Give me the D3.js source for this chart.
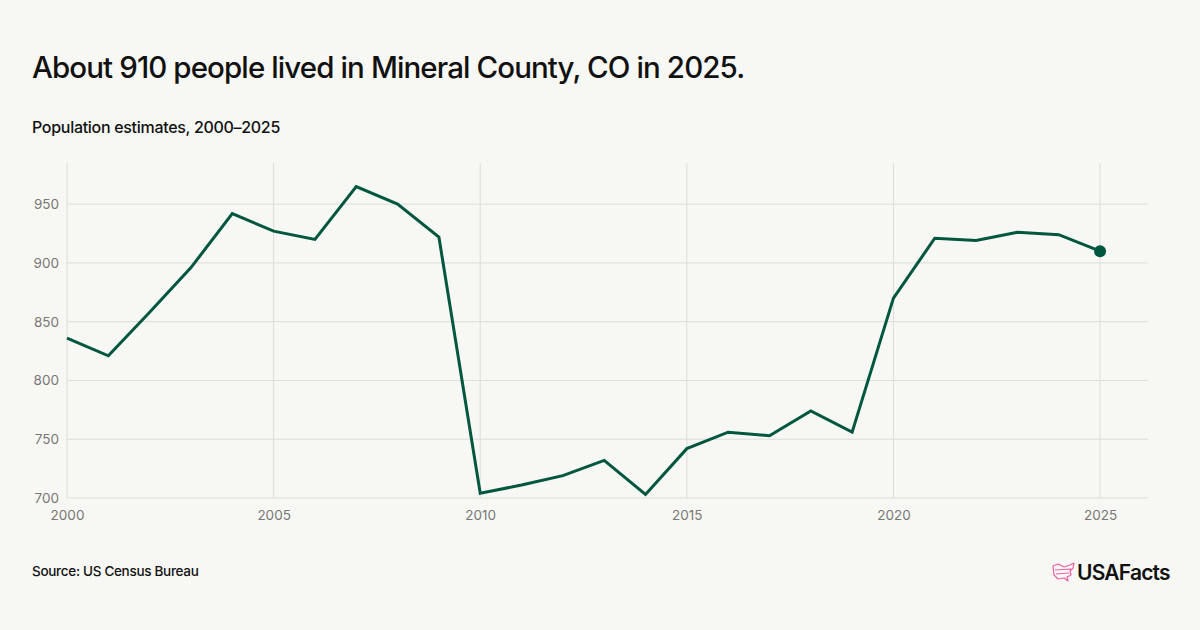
<!DOCTYPE html>
<html>
<head>
<meta charset="utf-8">
<script src="https://cdn.jsdelivr.net/npm/d3@7"></script>
<style>
  body { margin: 0; background: #f7f7f3; }
  text { font-family: Inter, "Noto Sans", sans-serif; }
</style>
</head>
<body>
<div id="chart"></div>
<script>
var years = d3.range(2000, 2026);
var population = [836, 821, 858, 896, 942, 927, 920, 965, 950, 922,
                  704, 711, 719, 732, 703, 742, 756, 753, 774, 756,
                  870, 921, 919, 926, 924, 910];
var yTicks = [700, 750, 800, 850, 900, 950];
var xTicks = [2000, 2005, 2010, 2015, 2020, 2025];

var data = years.map(function(d, i) { return {year: d, value: population[i]}; });

var W = 1200, H = 630;
var margin = {top: 163, right: 52, bottom: 132, left: 67},
    width = W - margin.left - margin.right,
    height = H - margin.top - margin.bottom;

var svg = d3.select("#chart")
    .append("svg")
    .attr("width", W)
    .attr("height", H);

svg.append("rect").attr("width", W).attr("height", H).attr("fill", "#f7f7f3");

svg.append("text")
    .attr("x", 32).attr("y", 78)
    .attr("font-size", 29.5)
    .attr("font-weight", 500)
    .attr("letter-spacing", -0.9)
    .attr("fill", "#111")
    .text("About 910 people lived in Mineral County, CO in 2025.");

svg.append("text")
    .attr("x", 32).attr("y", 133)
    .attr("font-size", 16)
    .attr("font-weight", 500)
    .attr("letter-spacing", -0.3)
    .attr("fill", "#111")
    .text("Population estimates, 2000\u20132025");

var g = svg.append("g")
    .attr("transform", "translate(" + margin.left + "," + margin.top + ")");

var x = d3.scaleLinear()
    .domain([2000, 2026.16])
    .range([0, width]);

var y = d3.scaleLinear()
    .domain([700, 985])
    .range([height, 0]);

// grid
g.append("g")
    .selectAll("line")
    .data(yTicks)
    .enter().append("line")
    .attr("x1", 0).attr("x2", width)
    .attr("y1", function(d) { return y(d); })
    .attr("y2", function(d) { return y(d); })
    .attr("stroke", "#dcdcd8").attr("stroke-width", 1);

g.append("g")
    .selectAll("line")
    .data(xTicks)
    .enter().append("line")
    .attr("y1", 0).attr("y2", height)
    .attr("x1", function(d) { return x(d); })
    .attr("x2", function(d) { return x(d); })
    .attr("stroke", "#dcdcd8").attr("stroke-width", 1);

// axes
var yAxis = g.append("g")
    .call(d3.axisLeft(y).tickValues(yTicks).tickSize(0).tickPadding(8));
yAxis.select(".domain").remove();
yAxis.selectAll("text")
    .attr("font-size", 13.5)
    .attr("fill", "#777")
    .style("font-family", "Inter, sans-serif");

var xAxis = g.append("g")
    .attr("transform", "translate(0," + height + ")")
    .call(d3.axisBottom(x).tickValues(xTicks).tickFormat(d3.format("d")).tickSize(0).tickPadding(12));
xAxis.select(".domain").remove();
xAxis.selectAll("text")
    .attr("font-size", 13.5)
    .attr("fill", "#777")
    .style("font-family", "Inter, sans-serif");

// line
var line = d3.line()
    .x(function(d) { return x(d.year); })
    .y(function(d) { return y(d.value); });

g.append("path")
    .datum(data)
    .attr("fill", "none")
    .attr("stroke", "#00563f")
    .attr("stroke-width", 3)
    .attr("stroke-linejoin", "miter")
    .attr("d", line);

var last = data[data.length - 1];
g.append("circle")
    .attr("cx", x(last.year))
    .attr("cy", y(last.value))
    .attr("r", 6)
    .attr("fill", "#00563f");

// footer
svg.append("text")
    .attr("x", 32).attr("y", 576)
    .attr("font-size", 13.5)
    .attr("font-weight", 500)
    .attr("letter-spacing", -0.3)
    .attr("fill", "#111")
    .text("Source: US Census Bureau");

var logo = svg.append("g").attr("transform", "translate(1052,563)");
logo.append("path")
    .attr("d", "M1,3 L6,1 L12,4 L18,2 L22,0 L21,5 L18,8 L19,12 L15,14 L16,18 L12,15 L6,16 L2,12 Z M3,7 L19,6 M4,11 L17,10")
    .attr("fill", "none")
    .attr("stroke", "#ef5fa7")
    .attr("stroke-width", 1.2)
    .attr("stroke-linejoin", "round");
svg.append("text")
    .attr("x", 1077).attr("y", 580)
    .attr("font-size", 21)
    .attr("font-weight", 600)
    .attr("letter-spacing", -0.8)
    .attr("fill", "#111")
    .text("USAFacts");
</script>
</body>
</html>
